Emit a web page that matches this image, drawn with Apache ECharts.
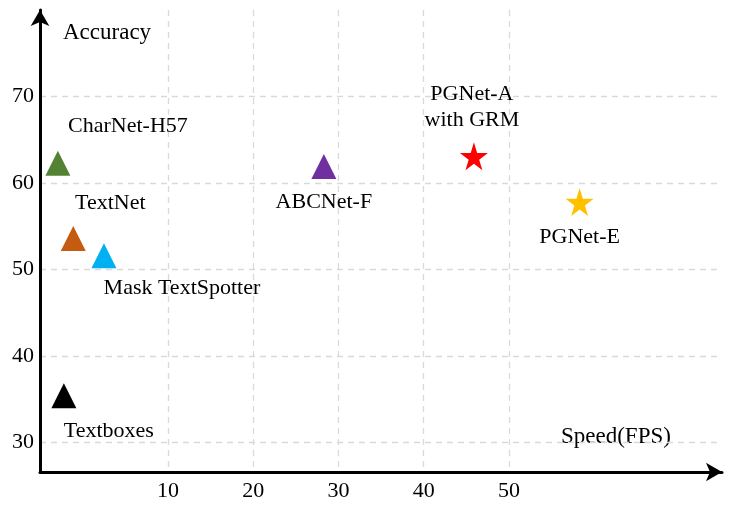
<!DOCTYPE html>
<html><head><meta charset="utf-8">
<script src="https://cdn.jsdelivr.net/npm/echarts@6/dist/echarts.min.js"></script>
<style>html,body{margin:0;padding:0;background:#fff}#c{width:729px;height:505px}</style>
</head><body><div id="c"></div>
<script>
var methods = ['CharNet-H57', 'TextNet', 'Mask TextSpotter', 'Textboxes', 'ABCNet-F', 'PGNet-A\nwith GRM', 'PGNet-E'];
var speed = [-2.9, -1.1, 2.5, -2.2, 28.3, 45.9, 58.3];
var accuracy = [62.3, 53.6, 51.6, 35.4, 61.9, 63.1, 57.8];
var xTicks = [10, 20, 30, 40, 50];
var yTicks = [30, 40, 50, 60, 70];

// marker look + label placement per point
var star = 'path://M50,0 L61,35 L98,35 L68,57 L79,91 L50,70 L21,91 L32,57 L2,35 L39,35 Z';
var look = [
    {color: '#548235', symbol: 'triangle', offset: [70, -37]},
    {color: '#c55a11', symbol: 'triangle', offset: [37, -35]},
    {color: '#00b0f0', symbol: 'triangle', offset: [78, 33]},
    {color: '#000000', symbol: 'triangle', offset: [45, 35]},
    {color: '#7030a0', symbol: 'triangle', offset: [0, 36]},
    {color: '#ff0000', symbol: star, offset: [-2, -49]},
    {color: '#ffc000', symbol: star, offset: [0, 35]}
];

var font = '"Liberation Serif", "DejaVu Serif", serif';
var chart = echarts.init(document.getElementById('c'));
var grid = {color: '#d9d9d9', type: [6, 5], width: 1.3};

chart.setOption({
    animation: false,
    grid: {left: 40, right: 7, top: 10, bottom: 33},
    xAxis: {
        type: 'value', min: -5, max: 75,
        axisLine: {onZero: false, lineStyle: {color: '#000', width: 3}, symbol: ['none', 'arrow'], symbolSize: [14, 16]},
        axisTick: {show: false, customValues: xTicks},
        axisLabel: {customValues: xTicks, color: '#000', fontFamily: font, fontSize: 22, margin: 8},
        splitLine: {show: true, lineStyle: grid}
    },
    yAxis: {
        type: 'value', min: 26.6, max: 80,
        axisLine: {show: true, onZero: false, lineStyle: {color: '#000', width: 3}, symbol: ['none', 'arrow'], symbolSize: [14, 16]},
        axisTick: {show: false, customValues: yTicks},
        axisLabel: {customValues: yTicks, color: '#000', fontFamily: font, fontSize: 22, margin: 6},
        splitLine: {show: true, lineStyle: grid}
    },
    graphic: [
        {type: 'text', left: 63, top: 21, style: {text: 'Accuracy', font: '23px ' + font, fill: '#000'}},
        {type: 'text', left: 561, top: 425, style: {text: 'Speed(FPS)', font: '23px ' + font, fill: '#000'}}
    ],
    series: [{
        type: 'scatter',
        data: methods.map(function (m, i) {
            var isStar = look[i].symbol !== 'triangle';
            return {
                name: m,
                value: [speed[i], accuracy[i]],
                symbol: look[i].symbol,
                symbolSize: isStar ? 28 : 25,
                itemStyle: {color: look[i].color, opacity: 1},
                label: {
                    show: true, formatter: m, position: 'inside', offset: look[i].offset,
                    color: '#000', fontFamily: font, fontSize: 22, lineHeight: 26, align: 'center'
                }
            };
        })
    }]
});
</script></body></html>
